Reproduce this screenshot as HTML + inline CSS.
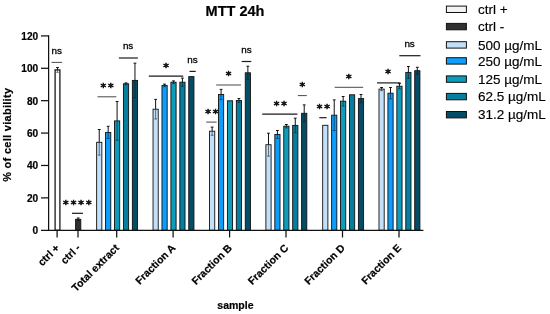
<!DOCTYPE html>
<html lang="en"><head><meta charset="utf-8"><title>MTT 24h</title>
<style>html,body{margin:0;padding:0;background:#fff}body{width:550px;height:314px;overflow:hidden}svg{display:block}text{font-family:"Liberation Sans",sans-serif;fill:#000}.b{font-weight:bold;stroke:#000;stroke-width:.2}.ax{stroke:#111;stroke-width:1.25;fill:none}.bar{stroke:#111;stroke-width:0.90}.eb{stroke:#111;stroke-width:1;fill:none}.lt{stroke:#333;stroke-width:.9}.lk{stroke:#1a1a1a;stroke-width:1.2}.ns{font-size:9.9px;text-anchor:middle;stroke:#000;stroke-width:.3}.st{font-family:"DejaVu Sans","Liberation Sans",sans-serif;font-size:11.2px;letter-spacing:2px;text-anchor:middle;stroke:#111;stroke-width:.7}.yl{font-size:10.1px;font-weight:bold;text-anchor:end;stroke:#000;stroke-width:.2}.xl{font-size:10.5px;font-weight:bold;text-anchor:end;stroke:#000;stroke-width:.2}.lg{font-size:13.5px;stroke:#000;stroke-width:.15}.sw{stroke:#111;stroke-width:1}</style></head><body>
<svg width="550" height="314" viewBox="0 0 550 314">
<rect width="550" height="314" fill="#fff"/>
<text class="b" x="235" y="15.8" font-size="14.5" text-anchor="middle">MTT 24h</text>
<text class="ns" x="56.80" y="53.65">ns</text>
<path class="lt" d="M51.50 62.40H62.10"/>
<text class="st" x="78.30" y="207.71">****</text>
<path class="lk" d="M72.00 213.30H83.00"/>
<text class="st" x="108.00" y="91.21">**</text>
<path class="lt" d="M97.50 96.80H116.30"/>
<text class="ns" x="128.10" y="49.25">ns</text>
<path class="lk" d="M118.90 58.00H137.90"/>
<text class="st" x="167.00" y="70.61">*</text>
<path class="lk" d="M148.80 76.20H183.20"/>
<text class="ns" x="192.40" y="62.65">ns</text>
<path class="lk" d="M189.50 71.40H195.70"/>
<text class="st" x="212.80" y="116.51">**</text>
<path class="lt" d="M206.20 122.10H216.60"/>
<text class="st" x="229.50" y="79.41">*</text>
<path class="lt" d="M216.20 85.00H241.00"/>
<text class="ns" x="246.40" y="52.75">ns</text>
<path class="lk" d="M241.70 61.50H251.30"/>
<text class="st" x="281.30" y="108.51">**</text>
<path class="lk" d="M262.20 114.10H297.40"/>
<text class="st" x="303.40" y="90.01">*</text>
<path class="lt" d="M297.90 95.60H306.80"/>
<text class="st" x="324.30" y="112.11">**</text>
<path class="lk" d="M319.30 117.70H326.60"/>
<text class="st" x="349.90" y="81.71">*</text>
<path class="lt" d="M334.70 87.30H363.20"/>
<text class="st" x="389.00" y="77.31">*</text>
<path class="lk" d="M377.00 82.90H400.50"/>
<text class="ns" x="409.60" y="46.95">ns</text>
<path class="lk" d="M399.30 55.70H420.50"/>
<rect class="bar" style="stroke-width:1.25" x="55.10" y="69.90" width="4.80" height="160.35" fill="#ffffff"/>
<rect class="bar" x="75.60" y="219.30" width="5.20" height="10.95" fill="#303030"/>
<rect class="bar" x="96.64" y="142.30" width="5.20" height="87.95" fill="#c2e0fa"/>
<rect class="bar" x="105.57" y="132.40" width="5.20" height="97.85" fill="#0c9dfd"/>
<rect class="bar" x="114.50" y="120.90" width="5.20" height="109.35" fill="#0d9cba"/>
<rect class="bar" x="123.43" y="83.80" width="5.20" height="146.45" fill="#067e9d"/>
<rect class="bar" x="132.36" y="80.40" width="5.20" height="149.85" fill="#054d67"/>
<rect class="bar" x="153.04" y="109.20" width="5.20" height="121.05" fill="#c2e0fa"/>
<rect class="bar" x="161.97" y="85.40" width="5.20" height="144.85" fill="#0c9dfd"/>
<rect class="bar" x="170.90" y="82.20" width="5.20" height="148.05" fill="#0d9cba"/>
<rect class="bar" x="179.83" y="82.20" width="5.20" height="148.05" fill="#067e9d"/>
<rect class="bar" x="188.76" y="76.60" width="5.20" height="153.65" fill="#054d67"/>
<rect class="bar" x="209.54" y="131.20" width="5.20" height="99.05" fill="#c2e0fa"/>
<rect class="bar" x="218.47" y="94.50" width="5.20" height="135.75" fill="#0c9dfd"/>
<rect class="bar" x="227.40" y="100.80" width="5.20" height="129.45" fill="#0d9cba"/>
<rect class="bar" x="236.33" y="100.50" width="5.20" height="129.75" fill="#067e9d"/>
<rect class="bar" x="245.26" y="72.80" width="5.20" height="157.45" fill="#054d67"/>
<rect class="bar" x="265.89" y="144.70" width="5.20" height="85.55" fill="#c2e0fa"/>
<rect class="bar" x="274.82" y="134.50" width="5.20" height="95.75" fill="#0c9dfd"/>
<rect class="bar" x="283.75" y="126.20" width="5.20" height="104.05" fill="#0d9cba"/>
<rect class="bar" x="292.68" y="125.40" width="5.20" height="104.85" fill="#067e9d"/>
<rect class="bar" x="301.61" y="113.30" width="5.20" height="116.95" fill="#054d67"/>
<rect class="bar" x="322.69" y="125.30" width="5.20" height="104.95" fill="#c2e0fa"/>
<rect class="bar" x="331.62" y="115.20" width="5.20" height="115.05" fill="#0c9dfd"/>
<rect class="bar" x="340.55" y="101.20" width="5.20" height="129.05" fill="#0d9cba"/>
<rect class="bar" x="349.48" y="94.80" width="5.20" height="135.45" fill="#067e9d"/>
<rect class="bar" x="358.41" y="98.60" width="5.20" height="131.65" fill="#054d67"/>
<rect class="bar" x="378.99" y="89.10" width="5.20" height="141.15" fill="#c2e0fa"/>
<rect class="bar" x="387.92" y="93.20" width="5.20" height="137.05" fill="#0c9dfd"/>
<rect class="bar" x="396.85" y="86.20" width="5.20" height="144.05" fill="#0d9cba"/>
<rect class="bar" x="405.78" y="72.40" width="5.20" height="157.85" fill="#067e9d"/>
<rect class="bar" x="414.71" y="70.70" width="5.20" height="159.55" fill="#054d67"/>
<path class="eb" d="M57.50 67.50V69.90M56.10 67.50H58.90"/>
<path class="eb" opacity=".55" d="M57.50 70.40V72.30M56.10 72.30H58.90"/>
<path class="eb" d="M78.20 218.00V219.30M76.80 218.00H79.60"/>
<path class="eb" opacity=".55" d="M78.20 219.80V220.60M76.80 220.60H79.60"/>
<path class="eb" d="M99.24 129.50V142.30M97.84 129.50H100.64"/>
<path class="eb" opacity=".55" d="M99.24 142.80V155.10M97.84 155.10H100.64"/>
<path class="eb" d="M108.17 126.30V132.40M106.77 126.30H109.57"/>
<path class="eb" opacity=".55" d="M108.17 132.90V138.50M106.77 138.50H109.57"/>
<path class="eb" d="M117.10 101.50V120.90M115.70 101.50H118.50"/>
<path class="eb" opacity=".55" d="M117.10 121.40V140.30M115.70 140.30H118.50"/>
<path class="eb" d="M126.03 82.90V83.80M124.63 82.90H127.43"/>
<path class="eb" opacity=".55" d="M126.03 84.30V84.70M124.63 84.70H127.43"/>
<path class="eb" d="M134.96 63.20V80.40M133.56 63.20H136.36"/>
<path class="eb" opacity=".55" d="M134.96 80.90V97.60M133.56 97.60H136.36"/>
<path class="eb" d="M155.64 99.40V109.20M154.24 99.40H157.04"/>
<path class="eb" opacity=".55" d="M155.64 109.70V119.00M154.24 119.00H157.04"/>
<path class="eb" d="M164.57 84.10V85.40M163.17 84.10H165.97"/>
<path class="eb" opacity=".55" d="M164.57 85.90V86.70M163.17 86.70H165.97"/>
<path class="eb" d="M173.50 80.90V82.20M172.10 80.90H174.90"/>
<path class="eb" opacity=".55" d="M173.50 82.70V83.50M172.10 83.50H174.90"/>
<path class="eb" d="M182.43 78.10V82.20M181.03 78.10H183.83"/>
<path class="eb" opacity=".55" d="M182.43 82.70V86.30M181.03 86.30H183.83"/>
<path class="eb" d="M212.14 127.10V131.20M210.74 127.10H213.54"/>
<path class="eb" opacity=".55" d="M212.14 131.70V135.30M210.74 135.30H213.54"/>
<path class="eb" d="M221.07 89.40V94.50M219.67 89.40H222.47"/>
<path class="eb" opacity=".55" d="M221.07 95.00V99.60M219.67 99.60H222.47"/>
<path class="eb" d="M238.93 98.50V100.50M237.53 98.50H240.33"/>
<path class="eb" opacity=".55" d="M238.93 101.00V102.50M237.53 102.50H240.33"/>
<path class="eb" d="M247.86 66.20V72.80M246.46 66.20H249.26"/>
<path class="eb" opacity=".55" d="M247.86 73.30V79.40M246.46 79.40H249.26"/>
<path class="eb" d="M268.49 133.20V144.70M267.09 133.20H269.89"/>
<path class="eb" opacity=".55" d="M268.49 145.20V156.20M267.09 156.20H269.89"/>
<path class="eb" d="M277.42 130.50V134.50M276.02 130.50H278.82"/>
<path class="eb" opacity=".55" d="M277.42 135.00V138.50M276.02 138.50H278.82"/>
<path class="eb" d="M286.35 124.50V126.20M284.95 124.50H287.75"/>
<path class="eb" opacity=".55" d="M286.35 126.70V127.90M284.95 127.90H287.75"/>
<path class="eb" d="M295.28 118.20V125.40M293.88 118.20H296.68"/>
<path class="eb" opacity=".55" d="M295.28 125.90V132.60M293.88 132.60H296.68"/>
<path class="eb" d="M304.21 104.90V113.30M302.81 104.90H305.61"/>
<path class="eb" opacity=".55" d="M304.21 113.80V121.70M302.81 121.70H305.61"/>
<path class="eb" d="M334.22 99.90V115.20M332.82 99.90H335.62"/>
<path class="eb" opacity=".55" d="M334.22 115.70V130.50M332.82 130.50H335.62"/>
<path class="eb" d="M343.15 96.50V101.20M341.75 96.50H344.55"/>
<path class="eb" opacity=".55" d="M343.15 101.70V105.90M341.75 105.90H344.55"/>
<path class="eb" d="M361.01 94.50V98.60M359.61 94.50H362.41"/>
<path class="eb" opacity=".55" d="M361.01 99.10V102.70M359.61 102.70H362.41"/>
<path class="eb" d="M381.59 87.50V89.10M380.19 87.50H382.99"/>
<path class="eb" opacity=".55" d="M381.59 89.60V90.70M380.19 90.70H382.99"/>
<path class="eb" d="M390.52 87.50V93.20M389.12 87.50H391.92"/>
<path class="eb" opacity=".55" d="M390.52 93.70V98.90M389.12 98.90H391.92"/>
<path class="eb" d="M399.45 83.60V86.20M398.05 83.60H400.85"/>
<path class="eb" opacity=".55" d="M399.45 86.70V88.80M398.05 88.80H400.85"/>
<path class="eb" d="M408.38 66.50V72.40M406.98 66.50H409.78"/>
<path class="eb" opacity=".55" d="M408.38 72.90V78.30M406.98 78.30H409.78"/>
<path class="eb" d="M417.31 67.30V70.70M415.91 67.30H418.71"/>
<path class="eb" opacity=".55" d="M417.31 71.20V74.10M415.91 74.10H418.71"/>
<path class="ax" d="M48.60 35.25V230.85"/>
<path class="ax" d="M41 230.25H423.4"/>
<path class="ax" d="M41 197.86H48.60"/>
<path class="ax" d="M41 165.47H48.60"/>
<path class="ax" d="M41 133.07H48.60"/>
<path class="ax" d="M41 100.68H48.60"/>
<path class="ax" d="M41 68.29H48.60"/>
<path class="ax" d="M41 35.90H48.60"/>
<text class="yl" x="38.2" y="234.20">0</text>
<text class="yl" x="38.2" y="201.81">20</text>
<text class="yl" x="38.2" y="169.42">40</text>
<text class="yl" x="38.2" y="137.02">60</text>
<text class="yl" x="38.2" y="104.63">80</text>
<text class="yl" x="38.2" y="72.24">100</text>
<text class="yl" x="38.2" y="39.85">120</text>
<path class="ax" d="M57.10 230.25V237.5"/>
<text class="xl" transform="translate(60.10 248.60) rotate(-45)">ctrl +</text>
<path class="ax" d="M78.00 230.25V237.5"/>
<text class="xl" transform="translate(81.00 248.60) rotate(-45)">ctrl -</text>
<path class="ax" d="M116.70 230.25V237.5"/>
<text class="xl" transform="translate(119.70 248.60) rotate(-45)">Total extract</text>
<path class="ax" d="M173.10 230.25V237.5"/>
<text class="xl" transform="translate(176.10 248.60) rotate(-45)">Fraction A</text>
<path class="ax" d="M229.60 230.25V237.5"/>
<text class="xl" transform="translate(232.60 248.60) rotate(-45)">Fraction B</text>
<path class="ax" d="M286.00 230.25V237.5"/>
<text class="xl" transform="translate(289.00 248.60) rotate(-45)">Fraction C</text>
<path class="ax" d="M342.50 230.25V237.5"/>
<text class="xl" transform="translate(345.50 248.60) rotate(-45)">Fraction D</text>
<path class="ax" d="M399.00 230.25V237.5"/>
<text class="xl" transform="translate(402.00 248.60) rotate(-45)">Fraction E</text>
<text class="b" font-size="11" text-anchor="middle" transform="translate(11.1 134.9) rotate(-90)" textLength="93.9" lengthAdjust="spacing">% of cell viability</text>
<text class="b" font-size="10.5" text-anchor="middle" x="235.4" y="309">sample</text>
<rect class="sw" x="446.4" y="6.10" width="20" height="6.4" fill="#f3f3f3"/>
<text class="lg" x="478" y="13.90">ctrl +</text>
<rect class="sw" x="446.4" y="23.40" width="20" height="6.4" fill="#303030"/>
<text class="lg" x="478" y="31.20">ctrl -</text>
<rect class="sw" x="446.4" y="41.70" width="20" height="6.4" fill="#c2e0fa"/>
<text class="lg" x="478" y="49.50">500 µg/mL</text>
<rect class="sw" x="446.4" y="57.70" width="20" height="6.4" fill="#0c9dfd"/>
<text class="lg" x="478" y="65.50">250 µg/mL</text>
<rect class="sw" x="446.4" y="75.90" width="20" height="6.4" fill="#0d9cba"/>
<text class="lg" x="478" y="83.70">125 µg/mL</text>
<rect class="sw" x="446.4" y="93.40" width="20" height="6.4" fill="#067e9d"/>
<text class="lg" x="478" y="101.20">62.5 µg/mL</text>
<rect class="sw" x="446.4" y="111.50" width="20" height="6.4" fill="#054d67"/>
<text class="lg" x="478" y="119.30">31.2 µg/mL</text>
</svg></body></html>
